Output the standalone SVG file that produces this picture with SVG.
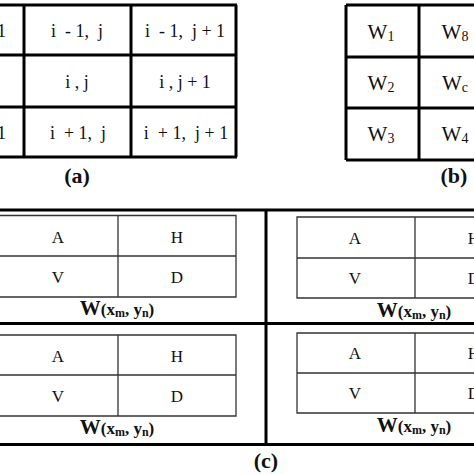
<svg xmlns="http://www.w3.org/2000/svg" width="474" height="474" viewBox="0 0 474 474">
<style>
.t{font-family:"Liberation Serif","Times New Roman",serif;font-size:17px;fill:#111;text-anchor:middle;white-space:pre}
.g{font-size:18px}
.w{font-family:"Liberation Serif","Times New Roman",serif;font-size:21px;fill:#111;text-anchor:middle}
.cap{font-family:"Liberation Serif","Times New Roman",serif;font-size:22px;font-weight:bold;fill:#111;text-anchor:middle}
.lbl{font-family:"Liberation Serif","Times New Roman",serif;font-size:17px;font-weight:bold;fill:#111;text-anchor:middle}
.thick{stroke:#000;stroke-width:3;fill:none}
.thin{stroke:#333;stroke-width:1.3;fill:none}
</style>
<rect width="474" height="474" fill="#fff"/>
<g id="grid-a">
<path class="thick" d="M-90 5H237M-90 55H237M-90 107H237M-90 157H237M24 5V157M131 5V157M236 5V157"/>
<text class="t g" x="6" y="37" style="text-anchor:end">i  - 1,  j - 1</text>
<text class="t g" x="77" y="37">i  - 1,  j</text>
<text class="t g" x="185" y="37">i  - 1,  j + 1</text>
<text class="t g" x="77" y="88">i , j</text>
<text class="t g" x="185" y="88">i , j + 1</text>
<text class="t g" x="6" y="139" style="text-anchor:end">i  + 1,  j - 1</text>
<text class="t g" x="78" y="139">i  + 1,  j</text>
<text class="t g" x="186" y="139">i  + 1,  j + 1</text>
<text class="cap" x="77" y="183">(a)</text>
</g>
<g id="grid-b">
<path class="thick" d="M346 5H490M346 57H490M346 108H490M346 160H490M346 5V160M419 5V160"/>
<text class="w" x="381" y="39">W<tspan font-size="14" dy="2">1</tspan></text>
<text class="w" x="455" y="39">W<tspan font-size="14" dy="2">8</tspan></text>
<text class="w" x="381" y="90">W<tspan font-size="14" dy="2">2</tspan></text>
<text class="w" x="455" y="90">W<tspan font-size="14" dy="2">c</tspan></text>
<text class="w" x="381" y="141">W<tspan font-size="14" dy="2">3</tspan></text>
<text class="w" x="455" y="141">W<tspan font-size="14" dy="2">4</tspan></text>
<text class="cap" x="454" y="183">(b)</text>
</g>
<g id="frame-c">
<path class="thick" d="M-5 210H480M-5 323.5H480M-5 444.5H480M266 210V444.5"/>
<text class="cap" x="266" y="468">(c)</text>
</g>
<g id="c-top-left">
<path class="thin" d="M-2 215.5H236V297H-2M-2 256H236M118 215.5V297"/>
<text class="t" x="58" y="243">A</text>
<text class="t" x="177" y="243">H</text>
<text class="t" x="58" y="283">V</text>
<text class="t" x="177" y="283">D</text>
<text class="lbl" x="117" y="315"><tspan font-size="21">W</tspan>(x<tspan font-size="12" dy="2">m</tspan><tspan dy="-2">, y</tspan><tspan font-size="12" dy="2">n</tspan><tspan dy="-2">)</tspan></text>
</g>
<g id="c-top-right">
<path class="thin" d="M540 217H297V298H540M297 258H540M415 217V298"/>
<text class="t" x="355" y="244">A</text>
<text class="t" x="474" y="244">H</text>
<text class="t" x="355" y="284">V</text>
<text class="t" x="474" y="284">D</text>
<text class="lbl" x="414" y="317"><tspan font-size="21">W</tspan>(x<tspan font-size="12" dy="2">m</tspan><tspan dy="-2">, y</tspan><tspan font-size="12" dy="2">n</tspan><tspan dy="-2">)</tspan></text>
</g>
<g id="c-bottom-left">
<path class="thin" d="M-2 335H236V416H-2M-2 375H236M118 335V416"/>
<text class="t" x="58" y="362">A</text>
<text class="t" x="177" y="362">H</text>
<text class="t" x="58" y="402">V</text>
<text class="t" x="177" y="402">D</text>
<text class="lbl" x="117" y="434"><tspan font-size="21">W</tspan>(x<tspan font-size="12" dy="2">m</tspan><tspan dy="-2">, y</tspan><tspan font-size="12" dy="2">n</tspan><tspan dy="-2">)</tspan></text>
</g>
<g id="c-bottom-right">
<path class="thin" d="M540 333H297V413H540M297 373H540M415 333V413"/>
<text class="t" x="355" y="359">A</text>
<text class="t" x="474" y="359">H</text>
<text class="t" x="355" y="399">V</text>
<text class="t" x="474" y="399">D</text>
<text class="lbl" x="414" y="432"><tspan font-size="21">W</tspan>(x<tspan font-size="12" dy="2">m</tspan><tspan dy="-2">, y</tspan><tspan font-size="12" dy="2">n</tspan><tspan dy="-2">)</tspan></text>
</g>
</svg>
